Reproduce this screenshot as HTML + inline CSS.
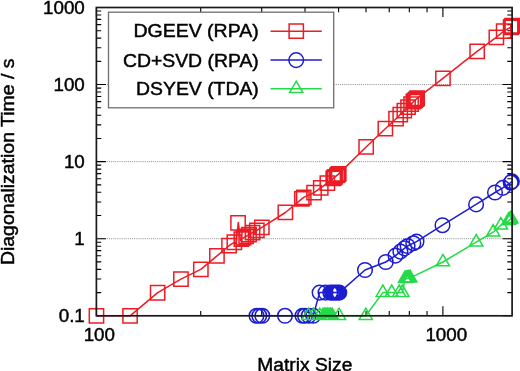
<!DOCTYPE html>
<html lang="en"><head><meta charset="utf-8"><title>Diagonalization Time vs Matrix Size</title>
<style>html,body{margin:0;padding:0;background:#fff}body{width:520px;height:371px;overflow:hidden}svg{display:block}</style>
</head><body>
<svg width="520" height="371" viewBox="0 0 520 371" font-family="'Liberation Sans', Arial, Helvetica, sans-serif" font-size="19" fill="#000">
<rect width="520" height="371" fill="#fff"/>
<line x1="96.4" y1="238.72" x2="512.1" y2="238.72" stroke="#8c8c8c" stroke-width="1" stroke-dasharray="1 1.1"/>
<line x1="96.4" y1="161.64" x2="512.1" y2="161.64" stroke="#8c8c8c" stroke-width="1" stroke-dasharray="1 1.1"/>
<line x1="96.4" y1="84.56" x2="512.1" y2="84.56" stroke="#8c8c8c" stroke-width="1" stroke-dasharray="1 1.1"/>
<path d="M96.4 315.80h9.5M512.1 315.80h-9.5M96.4 292.60h4.8M512.1 292.60h-4.8M96.4 279.02h4.8M512.1 279.02h-4.8M96.4 269.39h4.8M512.1 269.39h-4.8M96.4 261.92h4.8M512.1 261.92h-4.8M96.4 255.82h4.8M512.1 255.82h-4.8M96.4 250.66h4.8M512.1 250.66h-4.8M96.4 246.19h4.8M512.1 246.19h-4.8M96.4 242.25h4.8M512.1 242.25h-4.8M96.4 238.72h9.5M512.1 238.72h-9.5M96.4 215.52h4.8M512.1 215.52h-4.8M96.4 201.94h4.8M512.1 201.94h-4.8M96.4 192.31h4.8M512.1 192.31h-4.8M96.4 184.84h4.8M512.1 184.84h-4.8M96.4 178.74h4.8M512.1 178.74h-4.8M96.4 173.58h4.8M512.1 173.58h-4.8M96.4 169.11h4.8M512.1 169.11h-4.8M96.4 165.17h4.8M512.1 165.17h-4.8M96.4 161.64h9.5M512.1 161.64h-9.5M96.4 138.44h4.8M512.1 138.44h-4.8M96.4 124.86h4.8M512.1 124.86h-4.8M96.4 115.23h4.8M512.1 115.23h-4.8M96.4 107.76h4.8M512.1 107.76h-4.8M96.4 101.66h4.8M512.1 101.66h-4.8M96.4 96.50h4.8M512.1 96.50h-4.8M96.4 92.03h4.8M512.1 92.03h-4.8M96.4 88.09h4.8M512.1 88.09h-4.8M96.4 84.56h9.5M512.1 84.56h-9.5M96.4 61.36h4.8M512.1 61.36h-4.8M96.4 47.78h4.8M512.1 47.78h-4.8M96.4 38.15h4.8M512.1 38.15h-4.8M96.4 30.68h4.8M512.1 30.68h-4.8M96.4 24.58h4.8M512.1 24.58h-4.8M96.4 19.42h4.8M512.1 19.42h-4.8M96.4 14.95h4.8M512.1 14.95h-4.8M96.4 11.01h4.8M512.1 11.01h-4.8M96.40 315.8v-9.5M96.40 7.5v9.5M200.71 315.8v-4.8M200.71 7.5v4.8M261.72 315.8v-4.8M261.72 7.5v4.8M305.01 315.8v-4.8M305.01 7.5v4.8M338.59 315.8v-4.8M338.59 7.5v4.8M366.03 315.8v-4.8M366.03 7.5v4.8M389.23 315.8v-4.8M389.23 7.5v4.8M409.32 315.8v-4.8M409.32 7.5v4.8M427.05 315.8v-4.8M427.05 7.5v4.8M442.90 315.8v-9.5M442.90 7.5v9.5" stroke="#000" stroke-width="1.1" fill="none"/>
<path d="M96.5 315.8 L130.1 315.8 L157.7 292.7 L180.9 279.1 L200.8 269.4 L217.0 255.9 L229.1 245.7 L234.3 242.3 L236.0 244.2 L238.3 222.4 L240.4 240.5 L241.3 239.2 L243.6 237.9 L246.2 236.4 L249.1 234.7 L252.6 232.7 L256.8 230.4 L261.9 227.4 L285.4 212.5 L301.8 198.9 L303.7 197.4 L314.0 192.7 L320.7 187.9 L327.3 183.2 L333.2 178.4 L334.1 177.7 L335.0 177.0 L336.9 175.4 L337.8 174.7 L338.7 173.9 L366.1 147.0 L385.3 128.7 L396.0 118.7 L400.2 114.6 L404.4 110.6 L408.0 107.1 L411.0 104.2 L413.4 101.7 L414.3 100.9 L415.2 100.1 L416.2 99.2 L417.1 98.3 L442.9 78.4 L477.1 51.4 L496.3 37.4 L503.6 31.2 L510.6 27.4 L511.0 27.0 L511.4 26.6 L511.8 26.2 L512.2 25.8" stroke="#ec1c24" stroke-width="1.5" fill="none" stroke-linejoin="round"/>
<path d="M89.3 308.7h14.3v14.3h-14.3zM122.9 308.7h14.3v14.3h-14.3zM150.5 285.6h14.3v14.3h-14.3zM173.8 271.9h14.3v14.3h-14.3zM193.7 262.2h14.3v14.3h-14.3zM209.8 248.7h14.3v14.3h-14.3zM221.9 238.5h14.3v14.3h-14.3zM227.2 235.1h14.3v14.3h-14.3zM230.9 215.8h14.3v14.3h-14.3zM234.2 232.0h14.3v14.3h-14.3zM236.4 230.7h14.3v14.3h-14.3zM239.0 229.2h14.3v14.3h-14.3zM241.9 227.5h14.3v14.3h-14.3zM245.4 225.5h14.3v14.3h-14.3zM249.7 223.2h14.3v14.3h-14.3zM254.7 220.2h14.3v14.3h-14.3zM278.2 205.3h14.3v14.3h-14.3zM294.7 191.7h14.3v14.3h-14.3zM296.6 190.2h14.3v14.3h-14.3zM306.9 185.5h14.3v14.3h-14.3zM313.6 180.7h14.3v14.3h-14.3zM320.2 176.0h14.3v14.3h-14.3zM326.1 171.2h14.3v14.3h-14.3zM327.0 170.5h14.3v14.3h-14.3zM327.9 169.8h14.3v14.3h-14.3zM329.8 168.2h14.3v14.3h-14.3zM330.7 167.5h14.3v14.3h-14.3zM331.6 166.7h14.3v14.3h-14.3zM359.0 139.8h14.3v14.3h-14.3zM378.2 121.5h14.3v14.3h-14.3zM388.9 111.5h14.3v14.3h-14.3zM393.1 107.5h14.3v14.3h-14.3zM397.2 103.5h14.3v14.3h-14.3zM400.9 100.0h14.3v14.3h-14.3zM403.9 97.0h14.3v14.3h-14.3zM406.2 94.5h14.3v14.3h-14.3zM407.2 93.8h14.3v14.3h-14.3zM408.1 93.0h14.3v14.3h-14.3zM409.1 92.0h14.3v14.3h-14.3zM410.0 91.1h14.3v14.3h-14.3zM435.8 71.2h14.3v14.3h-14.3zM470.0 44.3h14.3v14.3h-14.3zM489.2 30.3h14.3v14.3h-14.3zM496.5 24.0h14.3v14.3h-14.3zM503.5 20.2h14.3v14.3h-14.3zM503.9 19.9h14.3v14.3h-14.3zM504.2 19.4h14.3v14.3h-14.3zM504.7 19.0h14.3v14.3h-14.3zM505.1 18.6h14.3v14.3h-14.3z" stroke="#ec1c24" stroke-width="1.5" fill="none"/>
<path d="M256.5 315.8 L259.3 315.8 L262.3 315.8 L285.0 315.8 L302.5 315.8 L305.0 315.8 L308.7 315.8 L313.2 315.8 L319.6 292.6 L325.5 292.6 L330.3 292.6 L332.0 292.6 L333.5 292.6 L335.0 292.6 L336.5 292.6 L338.0 292.6 L339.3 292.6 L365.0 270.0 L385.8 262.0 L395.5 255.6 L400.4 251.6 L404.4 248.4 L407.6 246.0 L413.3 243.2 L416.5 241.6 L442.5 225.2 L476.1 204.4 L495.0 192.5 L502.8 187.9 L510.7 182.6 L511.1 182.2 L511.5 181.8 L511.9 181.4" stroke="#1c1cd2" stroke-width="1.5" fill="none" stroke-linejoin="round"/>
<path d="M249.2 315.8a7.3 7.3 0 1 0 14.6 0a7.3 7.3 0 1 0 -14.6 0zM252.0 315.8a7.3 7.3 0 1 0 14.6 0a7.3 7.3 0 1 0 -14.6 0zM255.0 315.8a7.3 7.3 0 1 0 14.6 0a7.3 7.3 0 1 0 -14.6 0zM277.7 315.8a7.3 7.3 0 1 0 14.6 0a7.3 7.3 0 1 0 -14.6 0zM295.2 315.8a7.3 7.3 0 1 0 14.6 0a7.3 7.3 0 1 0 -14.6 0zM297.7 315.8a7.3 7.3 0 1 0 14.6 0a7.3 7.3 0 1 0 -14.6 0zM301.4 315.8a7.3 7.3 0 1 0 14.6 0a7.3 7.3 0 1 0 -14.6 0zM305.9 315.8a7.3 7.3 0 1 0 14.6 0a7.3 7.3 0 1 0 -14.6 0zM312.3 292.6a7.3 7.3 0 1 0 14.6 0a7.3 7.3 0 1 0 -14.6 0zM318.2 292.6a7.3 7.3 0 1 0 14.6 0a7.3 7.3 0 1 0 -14.6 0zM323.0 292.6a7.3 7.3 0 1 0 14.6 0a7.3 7.3 0 1 0 -14.6 0zM324.7 292.6a7.3 7.3 0 1 0 14.6 0a7.3 7.3 0 1 0 -14.6 0zM326.2 292.6a7.3 7.3 0 1 0 14.6 0a7.3 7.3 0 1 0 -14.6 0zM327.7 292.6a7.3 7.3 0 1 0 14.6 0a7.3 7.3 0 1 0 -14.6 0zM329.2 292.6a7.3 7.3 0 1 0 14.6 0a7.3 7.3 0 1 0 -14.6 0zM330.7 292.6a7.3 7.3 0 1 0 14.6 0a7.3 7.3 0 1 0 -14.6 0zM332.0 292.6a7.3 7.3 0 1 0 14.6 0a7.3 7.3 0 1 0 -14.6 0zM357.7 270.0a7.3 7.3 0 1 0 14.6 0a7.3 7.3 0 1 0 -14.6 0zM378.5 262.0a7.3 7.3 0 1 0 14.6 0a7.3 7.3 0 1 0 -14.6 0zM388.2 255.6a7.3 7.3 0 1 0 14.6 0a7.3 7.3 0 1 0 -14.6 0zM393.1 251.6a7.3 7.3 0 1 0 14.6 0a7.3 7.3 0 1 0 -14.6 0zM397.1 248.4a7.3 7.3 0 1 0 14.6 0a7.3 7.3 0 1 0 -14.6 0zM400.3 246.0a7.3 7.3 0 1 0 14.6 0a7.3 7.3 0 1 0 -14.6 0zM406.0 243.2a7.3 7.3 0 1 0 14.6 0a7.3 7.3 0 1 0 -14.6 0zM409.2 241.6a7.3 7.3 0 1 0 14.6 0a7.3 7.3 0 1 0 -14.6 0zM435.2 225.2a7.3 7.3 0 1 0 14.6 0a7.3 7.3 0 1 0 -14.6 0zM468.8 204.4a7.3 7.3 0 1 0 14.6 0a7.3 7.3 0 1 0 -14.6 0zM487.7 192.5a7.3 7.3 0 1 0 14.6 0a7.3 7.3 0 1 0 -14.6 0zM495.5 187.9a7.3 7.3 0 1 0 14.6 0a7.3 7.3 0 1 0 -14.6 0zM503.4 182.6a7.3 7.3 0 1 0 14.6 0a7.3 7.3 0 1 0 -14.6 0zM503.8 182.2a7.3 7.3 0 1 0 14.6 0a7.3 7.3 0 1 0 -14.6 0zM504.2 181.8a7.3 7.3 0 1 0 14.6 0a7.3 7.3 0 1 0 -14.6 0zM504.6 181.4a7.3 7.3 0 1 0 14.6 0a7.3 7.3 0 1 0 -14.6 0z" stroke="#1c1cd2" stroke-width="1.5" fill="none"/>
<path d="M308.5 315.8 L313.5 315.8 L319.7 315.8 L323.0 315.8 L324.5 315.8 L326.0 315.8 L327.5 315.8 L329.0 315.8 L330.5 315.8 L332.2 315.8 L339.0 315.8 L365.8 315.8 L382.8 292.6 L391.7 292.6 L399.2 292.6 L402.4 292.6 L405.0 278.7 L406.3 278.5 L407.6 278.3 L408.9 278.1 L410.2 277.9 L442.9 262.0 L476.2 242.1 L493.2 232.2 L500.9 225.2 L508.3 220.8 L509.0 220.3 L509.8 219.8 L510.5 219.3 L511.2 218.8" stroke="#24da48" stroke-width="1.5" fill="none" stroke-linejoin="round"/>
<path d="M308.5 308.2l6.61 11.42h-13.22zM313.5 308.2l6.61 11.42h-13.22zM319.7 308.2l6.61 11.42h-13.22zM323.0 308.2l6.61 11.42h-13.22zM324.5 308.2l6.61 11.42h-13.22zM326.0 308.2l6.61 11.42h-13.22zM327.5 308.2l6.61 11.42h-13.22zM329.0 308.2l6.61 11.42h-13.22zM330.5 308.2l6.61 11.42h-13.22zM332.2 308.2l6.61 11.42h-13.22zM339.0 308.2l6.61 11.42h-13.22zM365.8 308.2l6.61 11.42h-13.22zM382.8 285.0l6.61 11.42h-13.22zM391.7 285.0l6.61 11.42h-13.22zM399.2 285.0l6.61 11.42h-13.22zM402.4 285.0l6.61 11.42h-13.22zM405.0 271.1l6.61 11.42h-13.22zM406.3 270.9l6.61 11.42h-13.22zM407.6 270.7l6.61 11.42h-13.22zM408.9 270.5l6.61 11.42h-13.22zM410.2 270.3l6.61 11.42h-13.22zM442.9 254.4l6.61 11.42h-13.22zM476.2 234.5l6.61 11.42h-13.22zM493.2 224.6l6.61 11.42h-13.22zM500.9 217.6l6.61 11.42h-13.22zM508.3 213.2l6.61 11.42h-13.22zM509.0 212.7l6.61 11.42h-13.22zM509.8 212.2l6.61 11.42h-13.22zM510.5 211.7l6.61 11.42h-13.22zM511.2 211.2l6.61 11.42h-13.22z" stroke="#24da48" stroke-width="1.5" fill="none"/>
<rect x="96.4" y="7.5" width="415.70000000000005" height="308.3" fill="none" stroke="#1a1a1a" stroke-width="1.7"/>
<rect x="108.5" y="12.2" width="225.2" height="95.6" fill="#fff" stroke="#6e6e6e" stroke-width="1.3"/>
<text stroke="#000" stroke-width="0.45" transform="translate(258.8 37.1) scale(1.028 1)" text-anchor="end">DGEEV (RPA)</text>
<path d="M270.5 31.2H321.8" stroke="#ec1c24" stroke-width="1.5"/>
<path d="M289.1 24.0h14.3v14.3h-14.3z" stroke="#ec1c24" stroke-width="1.5" fill="none"/>
<text stroke="#000" stroke-width="0.45" transform="translate(258.8 66.5) scale(1.021 1)" text-anchor="end">CD+SVD (RPA)</text>
<path d="M270.5 60.1H321.8" stroke="#1c1cd2" stroke-width="1.5"/>
<path d="M288.9 60.1a7.3 7.3 0 1 0 14.6 0a7.3 7.3 0 1 0 -14.6 0z" stroke="#1c1cd2" stroke-width="1.5" fill="none"/>
<text stroke="#000" stroke-width="0.45" transform="translate(258.8 95.0) scale(1.02 1)" text-anchor="end">DSYEV (TDA)</text>
<path d="M270.5 88.8H321.8" stroke="#24da48" stroke-width="1.5"/>
<path d="M296.2 81.2l6.61 11.42h-13.22z" stroke="#24da48" stroke-width="1.5" fill="none"/>
<text stroke="#000" stroke-width="0.45" font-size="18.8" x="84.8" y="13.5" text-anchor="end">1000</text>
<text stroke="#000" stroke-width="0.45" font-size="18.8" x="84.8" y="90.6" text-anchor="end">100</text>
<text stroke="#000" stroke-width="0.45" font-size="18.8" x="84.8" y="167.6" text-anchor="end">10</text>
<text stroke="#000" stroke-width="0.45" font-size="18.8" x="84.8" y="244.7" text-anchor="end">1</text>
<text stroke="#000" stroke-width="0.45" font-size="18.8" x="84.8" y="321.8" text-anchor="end">0.1</text>
<text stroke="#000" stroke-width="0.45" font-size="18.8" x="99.3" y="341.3" text-anchor="middle">100</text>
<text stroke="#000" stroke-width="0.45" font-size="18.8" x="446.3" y="341.4" text-anchor="middle">1000</text>
<text stroke="#000" stroke-width="0.45" transform="translate(304.8 370.6) scale(1.012 1)" text-anchor="middle">Matrix Size</text>
<text stroke="#000" stroke-width="0.45" transform="translate(13.7 161.8) rotate(-90) scale(1.025 1)" text-anchor="middle">Diagonalization Time / s</text>
</svg>
</body></html>
